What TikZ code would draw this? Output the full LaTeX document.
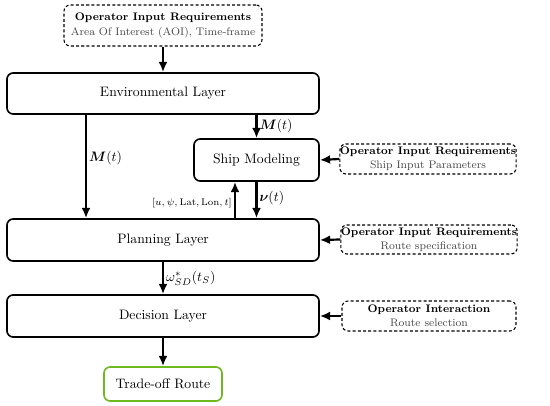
\documentclass[tikz,border=0pt]{standalone}
\usepackage{amsmath,bm}
\usetikzlibrary{arrows.meta}
\definecolor{tgreen}{RGB}{110,185,30}
\newdimen\px \px=0.73pt
\tikzset{
  layer/.style={draw, line width=1.2pt, rounded corners=4.5pt, font=\normalsize, inner sep=0pt},
  opbox/.style={draw, dashed, line width=0.8pt, dash pattern=on 2.2pt off 1.6pt, rounded corners=4.5pt, align=center, font=\footnotesize, inner sep=0pt},
  resbox/.style={draw=tgreen, line width=1.2pt, rounded corners=4.5pt, inner sep=0pt},
  arr/.style={line width=1.6pt, -{Latex[length=7.5pt,width=6.5pt]}},
  lbl/.style={inner sep=1.5pt}
}
\begin{document}
\begin{tikzpicture}[x=0.73pt,y=-0.73pt]
\useasboundingbox (0,0) rectangle (550,406);
\node[opbox, minimum width=198\px, minimum height=41\px] (oir1) at (163,25.5)
  {\textbf{Operator Input Requirements}\\[1pt]\textcolor{black!72}{Area Of Interest (AOI), Time-frame}};
\node[layer, minimum width=312\px, minimum height=41\px] (env) at (163,93.5) {Environmental Layer};
\node[layer, minimum width=125\px, minimum height=42\px] (ship) at (256.5,160) {Ship Modeling};
\node[opbox, minimum width=176\px, minimum height=30\px] (oir2) at (428,159)
  {\textbf{Operator Input Requirements}\\[0.5pt]\textcolor{black!72}{Ship Input Parameters}};
\node[layer, minimum width=312\px, minimum height=42\px] (plan) at (163,240) {Planning Layer};
\node[opbox, minimum width=174\px, minimum height=29\px] (oir3) at (429,239.5)
  {\textbf{Operator Input Requirements}\\[0.5pt]\textcolor{black!72}{Route specification}};
\node[layer, minimum width=312\px, minimum height=42\px] (dec) at (163,316) {Decision Layer};
\node[opbox, minimum width=174\px, minimum height=30\px] (oi) at (429,316)
  {\textbf{Operator Interaction}\\[0.5pt]\textcolor{black!72}{Route selection}};
\node[resbox, minimum width=118\px, minimum height=34\px] (trade) at (163,384) {Trade-off Route};
\coordinate (xl) at (86,0);
\coordinate (xu) at (235,0);
\draw[arr] (oir1.south) -- (env.north);
\draw[arr] (env.south -| xl) -- node[lbl, right, pos=0.42] {$\bm{M}(t)$} (plan.north -| xl);
\draw[arr] (env.south -| ship) -- node[lbl, right] {$\bm{M}(t)$} (ship.north);
\draw[arr] (plan.north -| xu) -- node[lbl, left, pos=0.42, font=\scriptsize] {$[u,\psi,\mathrm{Lat},\mathrm{Lon},t]$} (ship.south -| xu);
\draw[arr] (ship.south) -- node[lbl, right, pos=0.45] {$\bm{\nu}(t)$} (plan.north -| ship);
\draw[arr] (oir2.west) -- (ship.east);
\draw[arr] (oir3.west) -- (plan.east);
\draw[arr] (oi.west) -- (dec.east);
\draw[arr] (plan.south) -- node[lbl, right] {$\omega^{*}_{SD}(t_S)$} (dec.north);
\draw[arr] (dec.south) -- (trade.north);
\end{tikzpicture}
\end{document}
